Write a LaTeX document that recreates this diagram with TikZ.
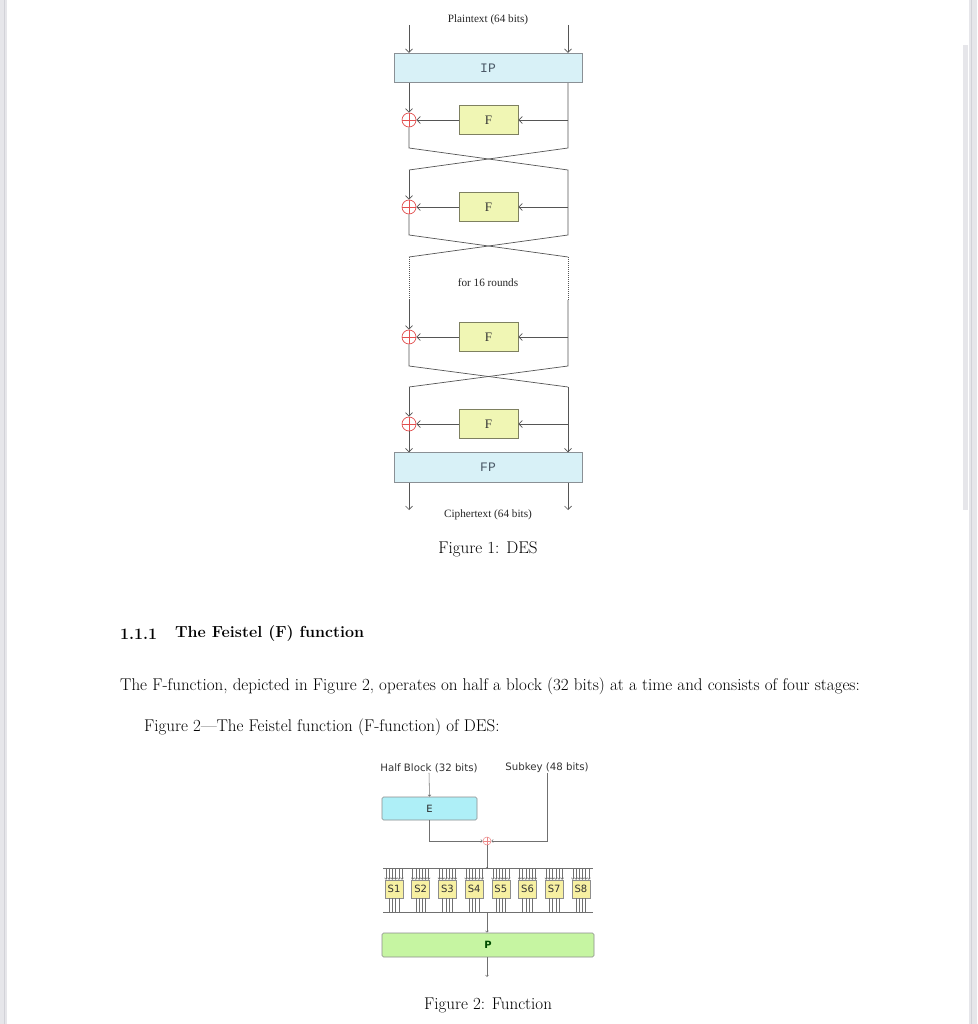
\documentclass[tikz,border=0pt]{standalone}
\usepackage{fontspec}
\usetikzlibrary{arrows.meta,calc}
\newfontfamily\serifL{Liberation Serif}
\newfontfamily\monoL{Liberation Mono}
\newfontfamily\sansD{DejaVu Sans}
\definecolor{lnc}{HTML}{555555}
\definecolor{ipfill}{HTML}{D8F1F7}
\definecolor{ipdraw}{HTML}{8A9095}
\definecolor{iptext}{HTML}{4A5866}
\definecolor{ffill}{HTML}{F0F6B4}
\definecolor{fdraw}{HTML}{7E8060}
\definecolor{xorc}{HTML}{E25050}
\definecolor{efill}{HTML}{AEEFF7}
\definecolor{pfill}{HTML}{C6F5A2}
\definecolor{sfill}{HTML}{F7F0A2}
\definecolor{ln2c}{HTML}{707070}
\definecolor{pagegray}{HTML}{E6E6EA}
\definecolor{pagegrayd}{HTML}{D2D2D8}
\begin{document}
\begin{tikzpicture}[x=1pt,y=-1pt,
  ln/.style={draw=lnc,line width=0.7pt},
  arr/.style={ln,-{Straight Barb[length=3.5pt,width=7pt]}},
  dots/.style={draw=lnc,line width=0.6pt,dash pattern=on 0.8pt off 1.2pt},
  perm/.style={draw=ipdraw,fill=ipfill,line width=0.8pt,minimum width=188pt,minimum height=29.5pt,inner sep=0pt,font=\monoL\fontsize{13}{14}\selectfont,text=iptext},
  fbox/.style={draw=fdraw,fill=ffill,line width=0.8pt,minimum width=59pt,minimum height=29pt,inner sep=0pt,font=\serifL\fontsize{13}{14}\selectfont,text=black!80},
  xorn/.style={circle,draw=xorc,line width=0.7pt,minimum size=14pt,inner sep=0pt,
    path picture={\draw[xorc,line width=0.7pt] (path picture bounding box.north) -- (path picture bounding box.south) (path picture bounding box.west) -- (path picture bounding box.east);}},
  lab1/.style={font=\serifL\fontsize{11.2}{13}\selectfont,text=black!85,inner sep=0pt},
  ln2/.style={draw=ln2c,line width=0.55pt},
  sarr/.style={ln2,-{Straight Barb[length=1.6pt,width=3pt]}},
  sl/.style={font=\sansD\fontsize{10.2}{12}\selectfont,text=black!80,inner sep=0pt},
  ebox/.style={draw=ln2c!80,fill=efill,rounded corners=1.5pt,line width=0.6pt,minimum width=95pt,minimum height=23pt,inner sep=0pt,font=\sansD\fontsize{10}{12}\selectfont,text=black!85},
  pbx/.style={draw=ln2c!80,fill=pfill,rounded corners=1.5pt,line width=0.6pt,minimum width=212pt,minimum height=24pt,inner sep=0pt,font=\sansD\bfseries\fontsize{10}{12}\selectfont,text=green!30!black},
  sbox/.style={draw=ln2c!80,fill=sfill,line width=0.5pt,minimum width=18pt,minimum height=18pt,inner sep=0pt,font=\sansD\fontsize{10}{11}\selectfont,text=black!80},
  sxor/.style={circle,draw=xorc!70,line width=0.5pt,minimum size=8pt,inner sep=0pt,
    path picture={\draw[xorc!70,line width=0.5pt] (path picture bounding box.north) -- (path picture bounding box.south) (path picture bounding box.west) -- (path picture bounding box.east);}},
  capt/.style={font=\fontsize{17}{20}\selectfont,inner sep=0pt},
  body/.style={font=\fontsize{17}{20}\selectfont,inner sep=0pt,anchor=west}
]
\useasboundingbox (0,0) rectangle (977,1024);
\fill[white] (0,0) rectangle (977,1024);
% page edges and scrollbar
\fill[pagegray] (0,0) rectangle (7,1024);
\draw[pagegrayd,line width=1pt] (4,0) -- (4,1024);
\fill[pagegray] (969,0) rectangle (977,1024);
\draw[pagegrayd,line width=1pt] (971,0) -- (971,1024);
\fill[pagegray] (963,45) rectangle (968,510);

% ---------------- Figure 1: DES ----------------
\node[lab1] (pt) at (488,20) {Plaintext (64 bits)};
\node[perm] (ip) at (488,68) {IP};
\node[perm] (fp) at (488,467.5) {FP};
\node[lab1] (rounds) at (488,283) {for 16 rounds};
\node[lab1] (ct) at (488,515) {Ciphertext (64 bits)};

\node[fbox] (f1) at (488.5,120) {F};
\node[fbox] (f2) at (488.5,207) {F};
\node[fbox] (f3) at (488.5,337) {F};
\node[fbox] (f4) at (488.5,424) {F};
\node[xorn] (x1) at (409,120) {};
\node[xorn] (x2) at (409,207) {};
\node[xorn] (x3) at (409,337) {};
\node[xorn] (x4) at (409,424) {};

\coordinate (pl) at (409,25);  \coordinate (pr) at (568,25);
\coordinate (cl) at (409,510); \coordinate (cr) at (568,510);
\coordinate (a1l) at (409,148); \coordinate (a1r) at (568,148);
\coordinate (b1l) at (409,170); \coordinate (b1r) at (568,170);
\coordinate (a2l) at (409,235); \coordinate (a2r) at (568,235);
\coordinate (b2l) at (409,257); \coordinate (b2r) at (568,257);
\coordinate (dl) at (409,300);  \coordinate (dr) at (568,300);
\coordinate (a3l) at (409,366); \coordinate (a3r) at (568,366);
\coordinate (b3l) at (409,387); \coordinate (b3r) at (568,387);

\draw[arr] (pl) -- (pl |- ip.north);
\draw[arr] (pr) -- (pr |- ip.north);
% round 1
\draw[arr] (ip.south -| x1) -- (x1.north);
\draw[arr] (f1.west) -- (x1.east);
\draw[arr] (f1.east -| pr) -- (f1.east);
\draw[ln] (ip.south -| pr) -- (a1r) -- (b1l);
\draw[ln] (x1.south) -- (a1l) -- (b1r) -- (a2r) -- (b2l);
% round 2
\draw[arr] (b1l) -- (x2.north);
\draw[arr] (f2.west) -- (x2.east);
\draw[arr] (f2.east -| pr) -- (f2.east);
\draw[ln] (x2.south) -- (a2l) -- (b2r);
% dotted
\draw[dots] (b2l) -- (dl);
\draw[dots] (b2r) -- (dr);
% round 15
\draw[arr] (dl) -- (x3.north);
\draw[arr] (f3.west) -- (x3.east);
\draw[arr] (f3.east -| pr) -- (f3.east);
\draw[ln] (dr) -- (a3r) -- (b3l);
\draw[ln] (x3.south) -- (a3l) -- (b3r);
% round 16
\draw[arr] (b3l) -- (x4.north);
\draw[arr] (f4.west) -- (x4.east);
\draw[arr] (f4.east -| pr) -- (f4.east);
\draw[arr] (x4.south) -- (x4.south |- fp.north);
\draw[arr] (b3r) -- (b3r |- fp.north);
\draw[arr] (fp.south -| cl) -- (cl);
\draw[arr] (fp.south -| cr) -- (cr);

\node[capt] (cap1) at (488,549) {Figure 1: DES};

% ---------------- text ----------------
\node[body,font=\bfseries\fontsize{16}{19}\selectfont] (secn) at (120,634) {1.1.1};
\node[body,font=\bfseries\fontsize{16}{19}\selectfont] (sect) at (175,634) {The Feistel (F) function};
\node[body] (para) at (120,686) {The F-function, depicted in Figure 2, operates on half a block (32 bits) at a time and consists of four stages:};
\node[body] (fig2t) at (144,727) {Figure 2---The Feistel function (F-function) of DES:};

% ---------------- Figure 2: F function ----------------
\node[sl] (hb) at (429,768) {Half Block (32 bits)};
\node[sl] (sk) at (547,768) {Subkey (48 bits)};
\node[ebox] (E) at (429.5,808.5) {E};
\node[sxor] (x) at (487,841) {};
\draw[sarr] (hb.south) -- (E.north);
\draw[sarr] (E.south) |- (x.west);
\draw[sarr] (sk.south) |- (x.east);
\coordinate (tb) at (487,868);
\coordinate (tbl) at (383,868); \coordinate (tbr) at (593,868);
\coordinate (bb) at (487,912);
\coordinate (bbl) at (383,912); \coordinate (bbr) at (593,912);
\draw[ln2] (x.south) -- (tb);
\fill[ln2c!60!black] (tb) circle (1pt);
\draw[ln2] (tbl) -- (tbr);
\draw[ln2] (bbl) -- (bbr);
\foreach \i in {1,...,8}{
  \pgfmathsetmacro{\cx}{394+26.7*(\i-1)}
  \node[sbox] (s\i) at (\cx,889) {S\i};
  \foreach \o in {-8,-4.8,-1.6,1.6,4.8,8}{
    \draw[sarr] ([xshift=\o pt]s\i.north |- tb) -- ([xshift=\o pt]s\i.north);
  }
  \foreach \o in {-4.8,-1.6,1.6,4.8}{
    \draw[ln2] ([xshift=\o pt]s\i.south) -- ([xshift=\o pt]s\i.south |- bb);
  }
}
\node[pbx] (P) at (488,945) {P};
\coordinate (pend) at (487,977);
\draw[sarr] (bb) -- (bb |- P.north);
\draw[sarr] (P.south -| pend) -- (pend);

\node[capt] (cap2) at (488,1005) {Figure 2: Function};
\end{tikzpicture}
\end{document}
